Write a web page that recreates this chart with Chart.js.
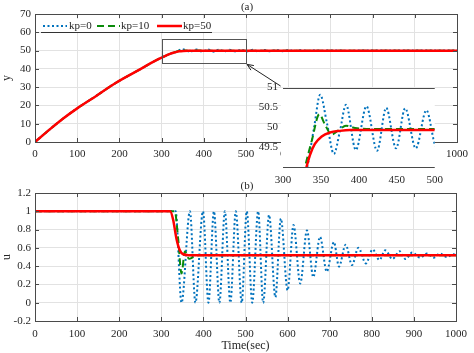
<!DOCTYPE html>
<html>
<head>
<meta charset="utf-8">
<script src="https://cdn.jsdelivr.net/npm/chart.js@4.4.0/dist/chart.umd.min.js"></script>
<style>
  html, body { margin: 0; padding: 0; background: #fff; }
  #wrap { position: relative; width: 474px; height: 353px; overflow: hidden; }
  canvas { position: absolute; }
  #cTop { left: 0; top: 0; }
  #cBot { left: 0; top: 170px; }
  #cInset { left: 240px; top: 76px; }
  .ttl { position: absolute; width: 60px; margin-left: -30px; text-align: center;
         font: 11px "Liberation Serif", serif; color: #262626; line-height: 12px; }
</style>
</head>
<body>
<div id="wrap">
  <canvas id="cTop" width="474" height="168"></canvas>
  <canvas id="cBot" width="474" height="183"></canvas>
  <canvas id="cInset" width="210" height="118"></canvas>
  <div class="ttl" style="left:247px; top:0px;">(a)</div>
  <div class="ttl" style="left:247px; top:179px;">(b)</div>
</div>
<script>
const seriesLabels = ['kp=0', 'kp=10', 'kp=50'];

// tick labels
const timeTicks = [0, 100, 200, 300, 400, 500, 600, 700, 800, 900, 1000];
const yTicks = [0, 10, 20, 30, 40, 50, 60, 70];
const zoomTimeTicks = [300, 350, 400, 450, 500];
const zoomYTicks = [49.5, 50, 50.5, 51];
const uTicks = [-0.2, 0, 0.2, 0.4, 0.6, 0.8, 1, 1.2];

const tY0 = [0, 35, 66, 100, 145, 190, 240, 290, 320, 332, 341, 349, 358, 367, 375, 383, 396, 410, 424, 436, 449, 461, 475, 489, 502, 516, 529, 543, 557, 571, 586, 600, 615, 630, 646, 662, 680, 700, 740, 800, 1000];
const yKp0 = [0, 6.9, 12.7, 18.4, 25.2, 32.1, 38.6, 45.0, 48.2, 49.0, 50.0, 50.82, 50.1, 49.33, 49.9, 50.57, 49.43, 50.53, 49.41, 50.49, 49.47, 50.48, 49.47, 50.43, 49.52, 50.42, 49.55, 50.38, 49.6, 50.33, 49.68, 50.28, 49.74, 50.22, 49.8, 50.16, 49.86, 50.1, 49.94, 50.03, 49.98];
const tY10 = [0, 35, 66, 100, 145, 190, 240, 290, 320, 329, 338, 348, 355, 364, 373, 383, 395, 410, 500, 1000];
const yKp10 = [0, 6.9, 12.7, 18.4, 25.2, 32.1, 38.6, 45.0, 48.2, 49.0, 49.67, 50.33, 50.08, 49.82, 49.92, 50.04, 49.98, 49.96, 49.96, 49.96];
const tY50 = [0, 35, 66, 100, 145, 190, 240, 290, 320, 331, 335.5, 342, 351, 362, 375, 388, 420, 500, 1000];
const yKp50 = [0, 6.9, 12.7, 18.4, 25.2, 32.1, 38.6, 45.0, 48.2, 49.0, 49.3, 49.58, 49.77, 49.87, 49.91, 49.93, 49.93, 49.93, 49.93];

// panel (b): control u
const tU0 = [0, 334, 348, 368, 381, 399, 412, 425, 438, 451, 464, 477, 491, 503, 516, 530, 542, 556, 571, 584, 600, 614, 630, 646, 661, 677, 693, 710, 722, 738, 753, 768, 786, 802, 818, 832, 849, 866, 880, 896, 915, 931, 947, 962, 978, 994, 1000];
const uKp0 = [1, 1, 0, 1, 0, 1, 0, 1, 0, 1, 0, 1, 0, 1, 0, 1, 0, 0.96, 0.06, 0.92, 0.135, 0.85, 0.21, 0.79, 0.28, 0.72, 0.34, 0.664, 0.395, 0.635, 0.412, 0.60, 0.43, 0.584, 0.467, 0.573, 0.478, 0.562, 0.478, 0.548, 0.493, 0.537, 0.493, 0.537, 0.50, 0.53, 0.52];
const tU10 = [0, 332, 340, 348, 356, 366, 376, 390, 1000];
const uKp10 = [1, 1, 0.7, 0.32, 0.56, 0.48, 0.50, 0.52, 0.52];
const tU50 = [0, 321, 328, 336, 344, 352, 367, 400, 1000];
const uKp50 = [1, 1, 0.91, 0.70, 0.573, 0.53, 0.52, 0.518, 0.518];

const pts = (ts, vs) => ts.map((t, i) => ({x: t, y: vs[i]}));

const FONT = '"Liberation Serif", serif';
const TXT = '#262626';
const GRID = '#e2e2e2';
const AXIS = '#4a4a4a';
Chart.defaults.font.family = FONT;
Chart.defaults.color = TXT;

const lineStyles = [
  {borderColor: '#0072bd', borderWidth: 2, borderDash: [2, 2.5], order: 2},
  {borderColor: '#0a8a0a', borderWidth: 2, borderDash: [7, 4], order: 1},
  {borderColor: '#ff0000', borderWidth: 2.5, borderDash: [], order: 0}
];

function makeSets(series) {
  return series.map((s, i) => Object.assign({
    label: seriesLabels[i],
    data: s,
    pointRadius: 0,
    fill: false,
    cubicInterpolationMode: 'monotone'
  }, lineStyles[i]));
}

function fixTicks(list) {
  return s => { s.ticks = list.map(v => ({value: v})); };
}

// framed axes with inward tick marks
const boxPlugin = {
  id: 'box',
  afterDatasetsDraw(chart) {
    const {ctx, chartArea: a, scales: {x, y}} = chart;
    ctx.save();
    ctx.strokeStyle = AXIS;
    ctx.lineWidth = 1;
    ctx.beginPath();
    x.ticks.forEach(t => {
      const px = Math.round(x.getPixelForValue(t.value)) + 0.5;
      ctx.moveTo(px, a.bottom); ctx.lineTo(px, a.bottom - 4);
      ctx.moveTo(px, a.top); ctx.lineTo(px, a.top + 4);
    });
    y.ticks.forEach(t => {
      const py = Math.round(y.getPixelForValue(t.value)) + 0.5;
      ctx.moveTo(a.left, py); ctx.lineTo(a.left + 4, py);
      ctx.moveTo(a.right, py); ctx.lineTo(a.right - 4, py);
    });
    ctx.stroke();
    ctx.strokeRect(Math.round(a.left) + 0.5, Math.round(a.top) + 0.5,
                   Math.round(a.right - a.left), Math.round(a.bottom - a.top));
    ctx.restore();
  }
};

// zoom window, arrow and legend on panel (a)
const annotPlugin = {
  id: 'annot',
  afterDraw(chart) {
    const {ctx, scales: {x, y}} = chart;
    ctx.save();
    ctx.strokeStyle = '#555';
    ctx.lineWidth = 1;
    const x1 = x.getPixelForValue(300), x2 = x.getPixelForValue(500);
    const y1 = y.getPixelForValue(56.2), y2 = y.getPixelForValue(43);
    ctx.strokeRect(Math.round(x1) + 0.5, Math.round(y1) + 0.5, Math.round(x2 - x1), Math.round(y2 - y1));
    // arrow from inset corner to zoom window
    const ax = x.getPixelForValue(582), ay = y.getPixelForValue(30.6);
    const tx = x2 + 1, ty = y2 + 1;
    ctx.strokeStyle = '#222';
    ctx.beginPath();
    ctx.moveTo(ax, ay); ctx.lineTo(tx, ty);
    const ang = Math.atan2(ay - ty, ax - tx);
    ctx.moveTo(tx + 7 * Math.cos(ang - 0.4), ty + 7 * Math.sin(ang - 0.4));
    ctx.lineTo(tx, ty);
    ctx.lineTo(tx + 7 * Math.cos(ang + 0.4), ty + 7 * Math.sin(ang + 0.4));
    ctx.stroke();

    // legend
    ctx.fillStyle = '#fff';
    ctx.fillRect(41, 19, 171, 13);
    ctx.strokeStyle = '#333';
    ctx.beginPath(); ctx.moveTo(41, 32.5); ctx.lineTo(212, 32.5); ctx.stroke();
    const items = [[43, 67, 69], [97, 120, 121], [157, 182, 183]];
    ctx.font = '11px ' + FONT;
    ctx.textBaseline = 'middle';
    items.forEach((it, i) => {
      const st = lineStyles[i];
      ctx.strokeStyle = st.borderColor;
      ctx.lineWidth = st.borderWidth;
      ctx.setLineDash(st.borderDash);
      ctx.beginPath(); ctx.moveTo(it[0], 26); ctx.lineTo(it[1], 26); ctx.stroke();
      ctx.setLineDash([]);
      ctx.fillStyle = TXT;
      ctx.fillText(seriesLabels[i], it[2], 26.5);
    });
    ctx.restore();
  }
};

const insetPlugin = {
  id: 'insetBg',
  beforeDraw(chart) {
    const {ctx, chartArea: a} = chart;
    ctx.save();
    ctx.fillStyle = '#fff';
    ctx.fillRect(a.left - 2, a.top, a.right - a.left + 2, a.bottom - a.top);
    ctx.restore();
  },
  afterDatasetsDraw(chart) {
    const {ctx, chartArea: a} = chart;
    ctx.save();
    ctx.strokeStyle = AXIS;
    ctx.lineWidth = 1;
    ctx.beginPath();
    ctx.moveTo(a.left, Math.round(a.top) + 0.5); ctx.lineTo(a.right, Math.round(a.top) + 0.5);
    ctx.moveTo(a.left, Math.round(a.bottom) + 0.5); ctx.lineTo(a.right, Math.round(a.bottom) + 0.5);
    ctx.stroke();
    ctx.restore();
  }
};

function axis(min, max, list, pad, extra) {
  return Object.assign({
    type: 'linear', min: min, max: max,
    afterBuildTicks: fixTicks(list),
    ticks: {autoSkip: false, maxRotation: 0, padding: pad, color: TXT,
            font: {size: 11, family: FONT}, callback: v => String(v)},
    grid: {color: GRID, drawTicks: false},
    border: {display: false}
  }, extra || {});
}

const baseOpts = {
  responsive: false,
  animation: false,
  devicePixelRatio: 1,
  plugins: {legend: {display: false}, tooltip: {enabled: false}}
};

new Chart(document.getElementById('cTop'), {
  type: 'line',
  data: {datasets: makeSets([pts(tY0, yKp0), pts(tY10, yKp10), pts(tY50, yKp50)])},
  options: Object.assign({}, baseOpts, {
    layout: {padding: {top: 14, right: 13, left: 0, bottom: 0}},
    scales: {
      x: axis(0, 1000, timeTicks, 6, {afterFit: s => { s.height = 26; }}),
      y: axis(0, 70, yTicks, 4, {
        afterFit: s => { s.width = 35; },
        title: {display: true, text: 'y', color: TXT, font: {size: 12, family: FONT}, padding: 0}
      })
    }
  }),
  plugins: [boxPlugin, annotPlugin]
});

new Chart(document.getElementById('cInset'), {
  type: 'line',
  data: {datasets: makeSets([pts(tY0, yKp0), pts(tY10, yKp10), pts(tY50, yKp50)])},
  options: Object.assign({}, baseOpts, {
    layout: {padding: {top: 10, right: 15, left: 0, bottom: 0}},
    scales: {
      x: axis(300, 500, zoomTimeTicks, 7, {afterFit: s => { s.height = 27; }, grid: {display: false, drawTicks: false}}),
      y: axis(49, 51, zoomYTicks, 5, {afterFit: s => { s.width = 43; }, grid: {display: false, drawTicks: false}})
    }
  }),
  plugins: [insetPlugin]
});

new Chart(document.getElementById('cBot'), {
  type: 'line',
  data: {datasets: makeSets([pts(tU0, uKp0), pts(tU10, uKp10), pts(tU50, uKp50)])},
  options: Object.assign({}, baseOpts, {
    layout: {padding: {top: 23, right: 13, left: 0, bottom: 0}},
    scales: {
      x: axis(0, 1000, timeTicks, 7, {
        afterFit: s => { s.height = 32; },
        title: {display: true, text: 'Time(sec)', color: TXT, font: {size: 12, family: FONT}, padding: 0}
      }),
      y: axis(-0.2, 1.2, uTicks, 4, {
        afterFit: s => { s.width = 35; },
        title: {display: true, text: 'u', color: TXT, font: {size: 12, family: FONT}, padding: 0}
      })
    }
  }),
  plugins: [boxPlugin]
});
</script>
</body>
</html>
